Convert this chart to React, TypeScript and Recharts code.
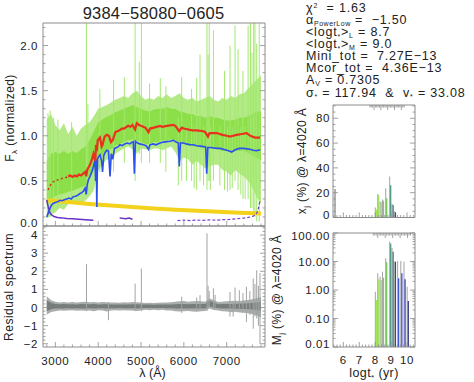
import React from 'react';
import { Area, Bar, Cell, ComposedChart, Line, XAxis, YAxis } from 'recharts';

const FONT = '"Liberation Sans", Arial, Helvetica, sans-serif';
const INK = '#222222';
const FRAME = '#8c8c8c';

// ---------- tick marks ----------
const lambdaMajor = [3000, 4000, 5000, 6000, 7000];
const lambdaTicks = [2800, 3000, 3200, 3400, 3600, 3800, 4000, 4200, 4400, 4600, 4800, 5000, 5200, 5400, 5600, 5800, 6000, 6200, 6400, 6600, 6800, 7000, 7200, 7400, 7600, 7800];
const fluxMajor = [0, 0.5, 1, 1.5, 2];
const fluxTicks = [0, 0.1, 0.2, 0.3, 0.4, 0.5, 0.6, 0.7, 0.8, 0.9, 1, 1.1, 1.2, 1.3, 1.4, 1.5, 1.6, 1.7, 1.8, 1.9, 2, 2.1, 2.2];
const residMajor = [-2, -1, 0, 1, 2, 3, 4];
const residTicks = [-2, -1.8, -1.6, -1.4, -1.2, -1, -0.8, -0.6, -0.4, -0.2, 0, 0.2, 0.4, 0.6, 0.8, 1, 1.2, 1.4, 1.6, 1.8, 2, 2.2, 2.4, 2.6, 2.8, 3, 3.2, 3.4, 3.6, 3.8, 4, 4.2, 4.4];
const ageMajor = [6, 7, 8, 9, 10];
const ageTicks = [5.4, 5.6, 5.8, 6, 6.2, 6.4, 6.6, 6.8, 7, 7.2, 7.4, 7.6, 7.8, 8, 8.2, 8.4, 8.6, 8.8, 9, 9.2, 9.4, 9.6, 9.8, 10, 10.2, 10.4];
const xjMajor = [0, 20, 40, 60, 80];
const xjTicks = [0, 5, 10, 15, 20, 25, 30, 35, 40, 45, 50, 55, 60, 65, 70, 75, 80, 85, 90];
const mjMajor = [0.01, 0.1, 1, 10, 100];
const mjTicks = [0.01, 0.02, 0.03, 0.04, 0.05, 0.06, 0.07, 0.08, 0.09, 0.1, 0.2, 0.3, 0.4, 0.5, 0.6, 0.7, 0.8, 0.9, 1, 2, 3, 4, 5, 6, 7, 8, 9, 10, 20, 30, 40, 50, 60, 70, 80, 90, 100];

// ---------- observed spectrum: [lambda, outerLo, coreLo, coreHi, outerHi] ----------
const obsBand: [number, number, number, number, number][] = [
  [2800, 0.08, 0.25, 0.72, 1.18], [2900, 0.12, 0.3, 0.8, 1.24], [3000, 0.15, 0.33, 0.82, 1.12],
  [3100, 0.2, 0.35, 0.8, 1.06], [3200, 0.18, 0.36, 0.83, 1.14], [3300, 0.24, 0.38, 0.8, 1.02],
  [3400, 0.26, 0.39, 0.83, 1.1], [3500, 0.28, 0.41, 0.81, 1.0], [3600, 0.25, 0.43, 0.85, 1.08],
  [3700, 0.28, 0.45, 0.88, 1.12], [3800, 0.33, 0.52, 0.95, 1.15], [3900, 0.4, 0.62, 1.05, 1.22],
  [4000, 0.62, 0.75, 1.15, 1.3], [4100, 0.68, 0.78, 1.18, 1.32], [4200, 0.74, 0.83, 1.21, 1.34],
  [4300, 0.72, 0.85, 1.23, 1.37], [4400, 0.8, 0.89, 1.26, 1.4], [4500, 0.83, 0.91, 1.28, 1.42],
  [4600, 0.86, 0.93, 1.3, 1.44], [4700, 0.88, 0.95, 1.32, 1.42], [4800, 0.85, 0.96, 1.34, 1.47],
  [4900, 0.8, 0.95, 1.32, 1.5], [5000, 0.86, 0.93, 1.3, 1.44], [5100, 0.85, 0.91, 1.28, 1.4],
  [5200, 0.84, 0.91, 1.27, 1.42], [5300, 0.86, 0.93, 1.29, 1.4], [5400, 0.86, 0.93, 1.3, 1.44],
  [5500, 0.84, 0.95, 1.3, 1.42], [5600, 0.86, 0.95, 1.32, 1.46], [5700, 0.88, 0.96, 1.3, 1.42],
  [5800, 0.82, 0.95, 1.3, 1.44], [5900, 0.72, 0.91, 1.27, 1.47], [6000, 0.76, 0.91, 1.26, 1.42],
  [6100, 0.74, 0.89, 1.24, 1.4], [6200, 0.68, 0.88, 1.24, 1.42], [6300, 0.72, 0.88, 1.22, 1.38],
  [6400, 0.68, 0.87, 1.22, 1.4], [6500, 0.64, 0.86, 1.2, 1.42], [6600, 0.66, 0.87, 1.22, 1.44],
  [6700, 0.68, 0.85, 1.2, 1.4], [6800, 0.68, 0.85, 1.2, 1.38], [6900, 0.62, 0.83, 1.18, 1.42],
  [7000, 0.6, 0.83, 1.17, 1.4], [7100, 0.56, 0.81, 1.17, 1.44], [7200, 0.62, 0.83, 1.18, 1.42],
  [7300, 0.58, 0.83, 1.2, 1.46], [7400, 0.55, 0.83, 1.2, 1.47], [7500, 0.5, 0.81, 1.22, 1.52],
  [7600, 0.42, 0.78, 1.24, 1.57], [7700, 0.32, 0.75, 1.27, 1.62], [7800, 0.25, 0.73, 1.27, 1.67],
];

// narrow emission lines, sky residuals and noisy pixels: [lambda, low, high]
const obsSpikes: [number, number, number][] = [
  [2830, 0.15, 1.25], [2880, 0.1, 1.28], [2960, 0.15, 1.2], [3060, 0.2, 1.18], [3380, 0.3, 1.15],
  [3725, 0.4, 2.3], [3760, 0.35, 1.35], [4040, 0.6, 1.52], [4360, 0.6, 1.62], [4610, 0.7, 1.65],
  [4862, 0.5, 2.3], [4960, 0.8, 1.82], [5008, 0.7, 2.3], [5200, 0.7, 1.58], [5450, 0.7, 1.64],
  [5580, 0.6, 1.55], [5870, 0.45, 1.2], [5950, 0.5, 1.65], [6060, 0.5, 1.1], [6180, 0.5, 1.52],
  [6240, 0.42, 1.1], [6300, 0.4, 1.64], [6377, 0.5, 1.9], [6460, 0.45, 1.1], [6540, 0.4, 2.3],
  [6565, 0.5, 1.9], [6592, 0.5, 2.3], [6620, 0.4, 1.1], [6690, 0.5, 2.17], [6840, 0.45, 1.1],
  [6950, 0.4, 1.72], [7020, 0.38, 1.1], [7077, 0.4, 2.0], [7130, 0.42, 1.1], [7195, 0.5, 2.22],
  [7265, 0.4, 1.96], [7330, 0.35, 1.1], [7380, 0.3, 1.72], [7430, 0.3, 1.1], [7500, 0.3, 2.22],
  [7555, 0.2, 2.3], [7590, 0.2, 1.92], [7630, 0.1, 2.3], [7660, 0.1, 2.3], [7700, 0.05, 2.02],
  [7760, 0.05, 2.3],
];

// synthetic spectrum (red), dotted where masked
const modelMasked: [number, number][] = [
  [2830, 0.4], [2870, 0.44], [2910, 0.47], [2950, 0.49], [3000, 0.5], [3050, 0.51], [3110, 0.52],
  [3170, 0.53], [3230, 0.535], [3290, 0.545],
];
const modelFlux: [number, number][] = [
  [3300, 0.55], [3350, 0.56], [3400, 0.545], [3450, 0.56], [3500, 0.55], [3550, 0.57], [3600, 0.56],
  [3650, 0.58], [3700, 0.6], [3720, 0.55], [3750, 0.63], [3800, 0.67], [3850, 0.73], [3890, 0.8],
  [3933, 0.72], [3950, 0.9], [3968, 0.83], [3990, 0.95], [4043, 0.98], [4080, 0.88], [4102, 0.9],
  [4150, 0.99], [4200, 1.01], [4250, 1.0], [4300, 0.93], [4340, 0.95], [4400, 1.04], [4450, 1.05],
  [4500, 1.06], [4550, 1.08], [4600, 1.08], [4666, 1.1], [4700, 1.11], [4750, 1.1], [4800, 1.12],
  [4861, 1.07], [4900, 1.14], [4950, 1.12], [5000, 1.11], [5054, 1.1], [5100, 1.09], [5175, 1.04],
  [5210, 1.08], [5300, 1.09], [5443, 1.11], [5500, 1.1], [5600, 1.11], [5754, 1.12], [5800, 1.11],
  [5893, 1.05], [5950, 1.09], [6000, 1.08], [6143, 1.065], [6200, 1.06], [6300, 1.06], [6454, 1.05],
  [6500, 1.04], [6563, 0.99], [6600, 1.03], [6767, 1.03], [6900, 1.01], [7000, 1.0], [7077, 0.99],
  [7150, 1.0], [7233, 1.01], [7350, 1.02], [7467, 1.03], [7550, 1.0], [7660, 0.98], [7780, 0.98],
];

// blue component
const youngFlux: [number, number][] = [
  [2800, 0.1], [2830, 0.14], [2870, 0.19], [2910, 0.23], [2950, 0.25], [3000, 0.26], [3060, 0.27],
  [3110, 0.285], [3160, 0.28], [3210, 0.29], [3265, 0.3], [3320, 0.31], [3370, 0.3], [3420, 0.325],
  [3470, 0.33], [3520, 0.34], [3576, 0.36], [3620, 0.37], [3660, 0.39], [3693, 0.42], [3720, 0.35],
  [3745, 0.46], [3770, 0.51], [3810, 0.55], [3850, 0.6], [3890, 0.66], [3926, 0.73], [3940, 0.5],
  [3955, 0.74], [3968, 0.21], [3985, 0.74], [4010, 0.77], [4043, 0.79], [4080, 0.72], [4102, 0.6],
  [4130, 0.78], [4170, 0.82], [4200, 0.84], [4240, 0.83], [4277, 0.55], [4305, 0.8], [4340, 0.74],
  [4380, 0.86], [4430, 0.87], [4470, 0.88], [4510, 0.9], [4560, 0.89], [4620, 0.91], [4680, 0.92],
  [4740, 0.91], [4790, 0.93], [4820, 0.935], [4845, 0.58], [4870, 0.94], [4920, 0.92], [4970, 0.91],
  [5054, 0.9], [5120, 0.89], [5175, 0.85], [5210, 0.9], [5280, 0.91], [5350, 0.9], [5443, 0.92],
  [5520, 0.93], [5600, 0.935], [5680, 0.94], [5754, 0.95], [5820, 0.93], [5870, 0.92], [5894, 0.66],
  [5920, 0.92], [5987, 0.92], [6060, 0.91], [6140, 0.9], [6220, 0.9], [6300, 0.89], [6380, 0.885],
  [6460, 0.88], [6510, 0.875], [6533, 0.58], [6560, 0.87], [6620, 0.87], [6700, 0.865], [6780, 0.86],
  [6843, 0.86], [6920, 0.85], [7000, 0.84], [7060, 0.83], [7116, 0.82], [7180, 0.84], [7250, 0.855],
  [7310, 0.86], [7400, 0.86], [7470, 0.855], [7543, 0.85], [7620, 0.84], [7700, 0.835], [7780, 0.845],
];

// purple (error / weights), null = gap
const errorFlux: [number, number | null][] = [
  [2800, 0.29], [2820, 0.24], [2850, 0.18], [2880, 0.14], [2920, 0.12], [2970, 0.105], [3050, 0.095],
  [3150, 0.09], [3265, 0.083], [3400, 0.08], [3550, 0.075], [3700, 0.07], [3887, 0.064], [3950, null],
  [4500, 0.09], [4560, 0.085], [4650, 0.08], [4720, 0.088], [4800, 0.075], [4830, null],
];
const errorFluxRed: [number, number][] = [
  [5850, 0.06], [6000, 0.065], [6150, 0.06], [6300, 0.066], [6450, 0.062], [6600, 0.068],
  [6750, 0.064], [6900, 0.07], [7050, 0.072], [7200, 0.078], [7350, 0.085], [7500, 0.095],
  [7600, 0.105], [7680, 0.125], [7730, 0.17], [7780, 0.29],
];

// power-law component (yellow)
const powerLaw: [number, number][] = [
  [2800, 0.285], [3300, 0.265], [3800, 0.245], [4300, 0.228], [4800, 0.21], [5300, 0.194],
  [5800, 0.18], [6300, 0.168], [6800, 0.157], [7300, 0.147], [7800, 0.138],
];

// residual: [lambda, outerLo, coreLo, coreHi, outerHi]
const residBand: [number, number, number, number, number][] = [
  [2800, -0.4, -0.2, 0.4, 0.62], [2900, -0.25, -0.1, 0.26, 0.4], [3000, -0.2, -0.06, 0.2, 0.32],
  [3100, -0.17, -0.05, 0.18, 0.28], [3200, -0.18, -0.05, 0.19, 0.31], [3300, -0.16, -0.04, 0.18, 0.27],
  [3400, -0.15, -0.05, 0.18, 0.3], [3500, -0.18, -0.04, 0.17, 0.28], [3600, -0.16, -0.05, 0.19, 0.31],
  [3700, -0.18, -0.05, 0.18, 0.32], [3800, -0.16, -0.04, 0.18, 0.29], [3900, -0.2, -0.05, 0.19, 0.31],
  [4000, -0.15, -0.04, 0.17, 0.28], [4100, -0.17, -0.04, 0.18, 0.3], [4200, -0.22, -0.05, 0.18, 0.29],
  [4300, -0.16, -0.04, 0.17, 0.27], [4400, -0.15, -0.04, 0.17, 0.28], [4500, -0.16, -0.03, 0.16, 0.26],
  [4600, -0.15, -0.04, 0.17, 0.29], [4700, -0.17, -0.04, 0.17, 0.27], [4800, -0.16, -0.04, 0.18, 0.31],
  [4900, -0.19, -0.05, 0.18, 0.29], [5000, -0.16, -0.04, 0.17, 0.27], [5100, -0.13, -0.03, 0.16, 0.25],
  [5200, -0.15, -0.03, 0.16, 0.26], [5300, -0.13, -0.03, 0.15, 0.25], [5400, -0.15, -0.03, 0.16, 0.26],
  [5500, -0.13, -0.03, 0.16, 0.27], [5600, -0.16, -0.04, 0.17, 0.28], [5700, -0.17, -0.04, 0.17, 0.29],
  [5800, -0.2, -0.05, 0.18, 0.32], [5900, -0.22, -0.06, 0.19, 0.34], [6000, -0.2, -0.06, 0.2, 0.36],
  [6100, -0.19, -0.05, 0.18, 0.32], [6200, -0.22, -0.06, 0.2, 0.35], [6300, -0.24, -0.06, 0.2, 0.36],
  [6400, -0.2, -0.05, 0.19, 0.34], [6500, -0.19, -0.05, 0.19, 0.32], [6600, -0.05, 0.06, 0.38, 0.5],
  [6700, -0.14, 0.0, 0.28, 0.4], [6800, -0.17, -0.04, 0.18, 0.3], [6900, -0.2, -0.05, 0.19, 0.32],
  [7000, -0.22, -0.06, 0.2, 0.34], [7100, -0.25, -0.06, 0.2, 0.36], [7200, -0.24, -0.07, 0.21, 0.37],
  [7300, -0.27, -0.07, 0.21, 0.36], [7400, -0.29, -0.08, 0.22, 0.39], [7500, -0.32, -0.09, 0.23, 0.41],
  [7600, -0.37, -0.11, 0.25, 0.45], [7700, -0.43, -0.14, 0.28, 0.51], [7800, -0.55, -0.18, 0.32, 0.58],
];
const residSpikes: [number, number, number][] = [
  [3728, -0.2, 2.4], [4240, -0.7, 0.3], [4862, -0.2, 1.32], [5008, -0.2, 2.15], [5950, -0.3, 0.6],
  [6300, -0.2, 0.55], [6377, -0.2, 0.68], [6540, -0.2, 4.1], [6565, 0.0, 1.2], [6592, 0.0, 0.9],
  [6690, -0.1, 1.06], [6730, 0.0, 0.7], [7077, -0.5, 0.86], [7150, -0.5, 0.3], [7195, -0.2, 1.1],
  [7295, -0.2, 0.95], [7380, -0.3, 0.8], [7460, -0.8, 1.15], [7540, -0.4, 0.9], [7620, -1.17, 1.6],
  [7660, -0.5, 1.3], [7700, -0.6, 2.06], [7740, -1.0, 1.2], [7777, -2.0, 1.9],
];

// ---------- population vectors ----------
const ageBins = [5.45, 8.05, 8.2, 8.35, 8.5, 8.7, 8.95, 9.1, 9.25, 9.45, 9.65, 9.85, 10.05];
const lightFrac = [23, 6.5, 18, 12.5, 13.5, 15.5, 26, 10, 4.3, 0.4, 0.3, 0.2, 0.1];
const lightFracAll = [0, 8, 19, 13, 14.5, 23.5, 33, 11, 5, 0.6, 0.5, 0.4, 0.3];
const massAges = [8.05, 8.2, 8.35, 8.5, 8.7, 8.95, 9.1, 9.25, 9.45, 9.65, 9.85, 10.05];
const massFrac = [0.45, 2.4, 2.2, 2.7, 9.4, 43, 22, 9.8, 2.6, 3.85, 2.4, 0.41];
const massFracAll = [0.87, 3.85, 2.9, 4.4, 12.9, 50, 30, 10, 10.4, 10.4, 9.8, 1.3];
const ageColors: Record<string, string> = {
  '5.45': '#6e6e6e', '8.05': '#9be64a', '8.2': '#8fe03c', '8.35': '#86da44', '8.5': '#7cd040',
  '8.7': '#5cbf3c', '8.95': '#2f8a6a', '9.1': '#245f7a', '9.25': '#2440d8', '9.45': '#2238cc',
  '9.65': '#2330c4', '9.85': '#1c24a8', '10.05': '#131877',
};

// ---------- fit summary ----------
const chi2 = '1.63';
const alphaPL = '−1.50';
const logtL = '8.7';
const logtM = '9.0';
const miniTot = '7.27E−13';
const mcorTot = '4.36E−13';
const aV = '0.7305';
const sigmaStar = '117.94';
const vStar = '33.08';

// ---------- rows for recharts ----------
const pts = (a: [number, number | null][]) => a.map(([x, y]) => ({ x, y }));
const outer = (band: [number, number, number, number, number][]) =>
  band.map(([x, lo, , , hi]) => ({ x, y: [lo, hi] }));
const core = (band: [number, number, number, number, number][]) =>
  band.map(([x, , lo, hi]) => ({ x, y: [lo, hi] }));
const spikes = (s: [number, number, number][]) =>
  s.flatMap(([x, lo, hi]) => [{ x, y: lo }, { x, y: hi }, { x, y: null }]);

const xjRows = ageBins.map((logt, i) => ({ logt, xj: lightFrac[i], xjAll: lightFracAll[i] }));
const mjRows = massAges.map((logt, i) => ({ logt, mj: massFrac[i], mjAll: massFracAll[i] }));

// ---------- frame ticks ----------
const tickText = { fontFamily: FONT, fontSize: 11.5, fill: INK, letterSpacing: 0.6 };
type Side = 'top' | 'bottom' | 'left' | 'right';

function isMajor(v: number, majors: number[]) {
  return majors.some((m) => Math.abs(m - v) <= 1e-6 * Math.max(1, Math.abs(m)));
}

function makeTick(side: Side, majors: number[], fmt?: (v: number) => string, gap = 5, shifts: Record<string, number> = {}) {
  return (props: any) => {
    const { x, y, payload } = props;
    const v = Number(payload?.value);
    const major = isMajor(v, majors);
    const len = major ? 5 : 2.5;
    const dx = side === 'left' ? len : side === 'right' ? -len : 0;
    const dy = side === 'bottom' ? -len : side === 'top' ? len : 0;
    let label: React.ReactNode = null;
    if (major && fmt) {
      const s = shifts[String(v)] ?? 0;
      if (side === 'bottom')
        label = <text x={x} y={y + gap} textAnchor="middle" {...tickText}>{fmt(v)}</text>;
      if (side === 'left')
        label = <text x={x - gap} y={y + 4 + s} textAnchor="end" {...tickText}>{fmt(v)}</text>;
    }
    return (
      <g>
        <line x1={x} y1={y} x2={x + dx} y2={y + dy} stroke={FRAME} strokeWidth={0.8} />
        {label}
      </g>
    );
  };
}

const minus = (s: string) => s.replace('-', '−');

interface FrameOpts {
  xKey: string;
  xDomain: number[];
  xTicks: number[];
  xMajor: number[];
  xFmt?: (v: number) => string;
  xGap?: number;
  yDomain: number[];
  yTicks: number[];
  yMajor: number[];
  yFmt?: (v: number) => string;
  yGap?: number;
  yShift?: Record<string, number>;
  yLog?: boolean;
}

// axes are 1px thick so that recharts still draws them; margins are reduced by 1 to compensate
function frameAxes(o: FrameOpts) {
  const common = { type: 'number' as const, allowDataOverflow: true, interval: 0 as const, tickSize: 0, tickMargin: 0, tickLine: false, axisLine: { stroke: FRAME, strokeWidth: 1 } };
  return [
    <XAxis key="xb" {...common} dataKey={o.xKey} domain={o.xDomain} ticks={o.xTicks} height={1}
      tick={makeTick('bottom', o.xMajor, o.xFmt, o.xGap)} />,
    <XAxis key="xt" {...common} xAxisId="top" orientation="top" domain={o.xDomain} ticks={o.xTicks} height={1}
      tick={makeTick('top', o.xMajor)} />,
    <YAxis key="yl" {...common} domain={o.yDomain} ticks={o.yTicks} width={1} scale={o.yLog ? 'log' : 'auto'}
      tick={makeTick('left', o.yMajor, o.yFmt, o.yGap, o.yShift)} />,
    <YAxis key="yr" {...common} yAxisId="right" orientation="right" domain={o.yDomain} ticks={o.yTicks} width={1}
      scale={o.yLog ? 'log' : 'auto'} tick={makeTick('right', o.yMajor)} />,
  ];
}

const lineBase = { dataKey: 'y', dot: false, activeDot: false, isAnimationActive: false, type: 'linear' as const };

const SPEC_DOMAIN = [2712, 7894];

function SpectrumPanel() {
  return (
    <ComposedChart width={280} height={232} margin={{ top: 22, right: 14, bottom: 5, left: 42 }}>
      {frameAxes({
        xKey: 'x', xDomain: SPEC_DOMAIN, xTicks: lambdaTicks, xMajor: lambdaMajor,
        yDomain: [0, 2.25], yTicks: fluxTicks, yMajor: fluxMajor, yFmt: (v) => v.toFixed(1), yShift: { '0': -3.5 },
      })}
      <Area data={outer(obsBand)} dataKey="y" type="linear" stroke="none" fill="#b3ea86" fillOpacity={1} isAnimationActive={false} />
      <Area data={core(obsBand)} dataKey="y" type="linear" stroke="none" fill="#8ddf4a" fillOpacity={1} isAnimationActive={false} />
      <Line {...lineBase} data={spikes(obsSpikes)} stroke="#a3e870" strokeWidth={1} connectNulls={false} />
      <Line {...lineBase} data={pts(powerLaw)} stroke="#f2d21a" strokeWidth={4} />
      <Line {...lineBase} data={pts(errorFlux)} stroke="#6a2fc8" strokeWidth={1.5} connectNulls={false} />
      <Line {...lineBase} data={pts(errorFluxRed)} stroke="#7a3fd0" strokeWidth={1.2} strokeDasharray="3 2" />
      <Line {...lineBase} data={pts(youngFlux)} stroke="#2b4ff0" strokeWidth={1.6} />
      <Line {...lineBase} data={pts(modelMasked)} stroke="#c8381e" strokeWidth={1.5} strokeDasharray="2 2.5" />
      <Line {...lineBase} data={pts(modelFlux)} stroke="#e8321e" strokeWidth={2.2} />
    </ComposedChart>
  );
}

function ResidualPanel() {
  return (
    <ComposedChart width={280} height={182} margin={{ top: 25, right: 14, bottom: 34, left: 42 }}>
      {frameAxes({
        xKey: 'x', xDomain: SPEC_DOMAIN, xTicks: lambdaTicks, xMajor: lambdaMajor, xFmt: (v) => String(v), xGap: 18,
        yDomain: [-2.18, 4.5], yTicks: residTicks, yMajor: residMajor, yFmt: (v) => minus(String(v)),
      })}
      <Area data={outer(residBand)} dataKey="y" type="linear" stroke="none" fill="#a9aeab" fillOpacity={1} isAnimationActive={false} />
      <Area data={core(residBand)} dataKey="y" type="linear" stroke="none" fill="#767d7a" fillOpacity={1} isAnimationActive={false} />
      <Line {...lineBase} data={spikes(residSpikes)} stroke="#a0a4a2" strokeWidth={1} connectNulls={false} />
    </ComposedChart>
  );
}

function LightPanel() {
  return (
    <ComposedChart width={184} height={122} margin={{ top: 4, right: 58, bottom: 3.5, left: 42 }} data={xjRows} barGap={0}>
      {frameAxes({
        xKey: 'logt', xDomain: [5.35, 10.5], xTicks: ageTicks, xMajor: ageMajor,
        yDomain: [0, 90.7], yTicks: xjTicks, yMajor: xjMajor, yFmt: (v) => String(v), yGap: 3, yShift: { '0': -3 },
      })}
      <Bar dataKey="xjAll" fill="#a8a8a8" barSize={1} isAnimationActive={false} />
      <Bar dataKey="xj" barSize={2} isAnimationActive={false}>
        {xjRows.map((r) => <Cell key={r.logt} fill={ageColors[String(r.logt)]} />)}
      </Bar>
    </ComposedChart>
  );
}

function MassPanel() {
  return (
    <ComposedChart width={184} height={154} margin={{ top: 4, right: 58, bottom: 34, left: 42 }} data={mjRows} barGap={0}>
      {frameAxes({
        xKey: 'logt', xDomain: [5.35, 10.5], xTicks: ageTicks, xMajor: ageMajor, xFmt: (v) => String(v), xGap: 17,
        yDomain: [0.01, 100], yTicks: mjTicks, yMajor: mjMajor, yFmt: (v) => v.toFixed(2), yGap: 3,
        yShift: { '0.01': -3, '100': 3 }, yLog: true,
      })}
      <Bar dataKey="mjAll" fill="#a8a8a8" barSize={1} isAnimationActive={false} />
      <Bar dataKey="mj" barSize={2} isAnimationActive={false}>
        {mjRows.map((r) => <Cell key={r.logt} fill={ageColors[String(r.logt)]} />)}
      </Bar>
    </ComposedChart>
  );
}

function Labels() {
  const st = { fontSize: 12.5, letterSpacing: 0.8, xmlSpace: 'preserve', style: { whiteSpace: 'pre' as const } };
  const x0 = 306;
  return (
    <svg width={474} height={382} style={{ position: 'absolute', left: 0, top: 0, pointerEvents: 'none' }}
      fontFamily={FONT} fill={INK}>
      <text x={153.5} y={19} textAnchor="middle" fontSize={16.5} letterSpacing={0.2}>9384−58080−0605</text>

      <text x={x0} y={12} {...st}>χ<tspan dy={-4} fontSize={7}>2</tspan><tspan dy={4}>{`  = ${chi2}`}</tspan></text>
      <text x={x0} y={24.1} {...st}>α<tspan dy={2} fontSize={7} letterSpacing={0.5}>PowerLow</tspan><tspan dy={-2}>{` =  ${alphaPL}`}</tspan></text>
      <text x={x0} y={36.1} {...st}>{'<logt'}<tspan dy={2.5} fontSize={7}>*</tspan><tspan dy={-2.5}>{'>'}</tspan><tspan dy={2} fontSize={7}>L</tspan><tspan dy={-2}>{` = ${logtL}`}</tspan></text>
      <text x={x0} y={48.2} {...st}>{'<logt'}<tspan dy={2.5} fontSize={7}>*</tspan><tspan dy={-2.5}>{'>'}</tspan><tspan dy={2} fontSize={7}>M</tspan><tspan dy={-2}>{` = ${logtM}`}</tspan></text>
      <text x={x0} y={60.3} {...st}>{`Mini_tot =  ${miniTot}`}</text>
      <text x={x0} y={72.4} {...st}>{`Mcor_tot =  ${mcorTot}`}</text>
      <text x={x0} y={84.4} {...st}>A<tspan dy={2} fontSize={7}>V</tspan><tspan dy={-2}>{` = ${aV}`}</tspan></text>
      <text x={x0} y={96.5} {...st}>σ<tspan dy={2.5} fontSize={7}>*</tspan><tspan dy={-2.5}>{` = ${sigmaStar}  &  v`}</tspan><tspan dy={2.5} fontSize={7}>*</tspan><tspan dy={-2.5}>{` = ${vStar}`}</tspan></text>

      <text transform="translate(14,118) rotate(-90)" textAnchor="middle" fontSize={12} letterSpacing={0.4}>
        F<tspan dy={3} fontSize={8}>λ</tspan><tspan dy={-3}> (normalized)</tspan>
      </text>
      <text transform="translate(13,287) rotate(-90)" textAnchor="middle" fontSize={12} letterSpacing={0.5}>Residual spectrum</text>
      <text transform="translate(306,161) rotate(-90)" textAnchor="middle" fontSize={12} letterSpacing={0.4}>
        x<tspan dy={3} fontSize={8}>j</tspan><tspan dy={-3}> (%) @ λ=4020 Å</tspan>
      </text>
      <text transform="translate(281,290) rotate(-90)" textAnchor="middle" fontSize={12} letterSpacing={0.4}>
        M<tspan dy={3} fontSize={8}>j</tspan><tspan dy={-3}> (%) @ λ=4020 Å</tspan>
      </text>

      <text x={152.5} y={377} textAnchor="middle" fontSize={12.5}>λ (Å)</text>
      <text x={374} y={377} textAnchor="middle" fontSize={12.5} letterSpacing={0.4}>
        logt<tspan dy={3} fontSize={8}>*</tspan><tspan dy={-3}> (yr)</tspan>
      </text>
    </svg>
  );
}

export default function App() {
  return (
    <div style={{ position: 'absolute', left: 0, top: 0, width: 474, height: 382, background: '#fff', fontFamily: FONT, overflow: 'hidden' }}>
      <div style={{ position: 'absolute', left: 0, top: 0 }}><SpectrumPanel /></div>
      <div style={{ position: 'absolute', left: 0, top: 200 }}><ResidualPanel /></div>
      <div style={{ position: 'absolute', left: 290, top: 100 }}><LightPanel /></div>
      <div style={{ position: 'absolute', left: 290, top: 228 }}><MassPanel /></div>
      <Labels />
    </div>
  );
}
